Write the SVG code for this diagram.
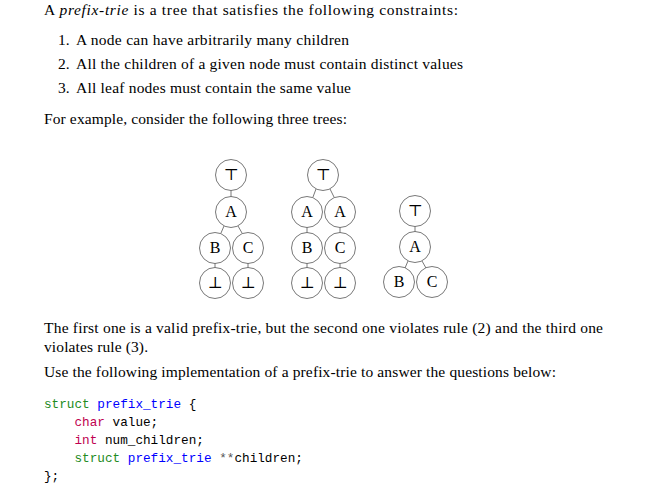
<svg xmlns="http://www.w3.org/2000/svg" width="653" height="492" viewBox="0 0 653 492">
<style>
.t{font-family:"Liberation Serif","DejaVu Serif",serif;font-size:15.5px;fill:#000}
.c{font-family:"Liberation Mono","DejaVu Sans Mono",monospace;font-size:12.7px;fill:#000}
.n circle{fill:#fff;stroke:#555;stroke-width:0.8}
.n text{font-family:"Liberation Serif","DejaVu Serif",serif;font-size:16px;text-anchor:middle}
#edges line{stroke:#555;stroke-width:0.8}
.g{fill:#228b22}.b{fill:#0000ff}.r{fill:#c00050}
</style>
<rect width="653" height="492" fill="#fff"/>
<text class="t" x="44" y="15" textLength="414" lengthAdjust="spacing">A <tspan font-style="italic">prefix-trie</tspan> is a tree that satisfies the following constraints:</text>
<text class="t" x="58" y="45">1.</text><text class="t" x="76" y="45" textLength="273" lengthAdjust="spacing">A node can have arbitrarily many children</text>
<text class="t" x="58" y="69">2.</text><text class="t" x="76" y="69" textLength="387" lengthAdjust="spacing">All the children of a given node must contain distinct values</text>
<text class="t" x="58" y="93">3.</text><text class="t" x="76" y="93" textLength="275" lengthAdjust="spacing">All leaf nodes must contain the same value</text>
<text class="t" x="44" y="124" textLength="303" lengthAdjust="spacing">For example, consider the following three trees:</text>
<g id="edges">
<line x1="231" y1="190" x2="231" y2="197"/>
<line x1="224" y1="226" x2="221" y2="233"/><line x1="238" y1="226" x2="242" y2="233"/>
<line x1="215" y1="263" x2="215" y2="268"/><line x1="248" y1="263" x2="248" y2="268"/>
<line x1="316" y1="189" x2="313" y2="197"/><line x1="330" y1="189" x2="334" y2="197"/>
<line x1="307" y1="227" x2="307" y2="233"/><line x1="340" y1="227" x2="340" y2="233"/>
<line x1="307" y1="263" x2="307" y2="268"/><line x1="340" y1="263" x2="340" y2="268"/>
<line x1="415" y1="226" x2="415" y2="232"/>
<line x1="408" y1="261" x2="405" y2="268"/><line x1="422" y1="261" x2="426" y2="268"/>
</g>
<g id="t1_top" class="n"><circle cx="231" cy="175" r="15.5"/><text x="231" y="180">⊤</text></g>
<g id="t1_A" class="n"><circle cx="231" cy="212" r="15.5"/><text x="231" y="217">A</text></g>
<g id="t1_B" class="n"><circle cx="215" cy="248" r="15.5"/><text x="215" y="253">B</text></g>
<g id="t1_C" class="n"><circle cx="248" cy="248" r="15.5"/><text x="248" y="253">C</text></g>
<g id="t1_b1" class="n"><circle cx="215" cy="283" r="15.5"/><text x="215" y="288">⊥</text></g>
<g id="t1_b2" class="n"><circle cx="248" cy="283" r="15.5"/><text x="248" y="288">⊥</text></g>
<g id="t2_top" class="n"><circle cx="323" cy="175" r="15.5"/><text x="323" y="180">⊤</text></g>
<g id="t2_A1" class="n"><circle cx="307" cy="212" r="15.5"/><text x="307" y="217">A</text></g>
<g id="t2_A2" class="n"><circle cx="340" cy="212" r="15.5"/><text x="340" y="217">A</text></g>
<g id="t2_B" class="n"><circle cx="307" cy="248" r="15.5"/><text x="307" y="253">B</text></g>
<g id="t2_C" class="n"><circle cx="340" cy="248" r="15.5"/><text x="340" y="253">C</text></g>
<g id="t2_b1" class="n"><circle cx="307" cy="283" r="15.5"/><text x="307" y="288">⊥</text></g>
<g id="t2_b2" class="n"><circle cx="340" cy="283" r="15.5"/><text x="340" y="288">⊥</text></g>
<g id="t3_top" class="n"><circle cx="415" cy="211" r="15.5"/><text x="415" y="216">⊤</text></g>
<g id="t3_A" class="n"><circle cx="415" cy="247" r="15.5"/><text x="415" y="252">A</text></g>
<g id="t3_B" class="n"><circle cx="399" cy="282" r="15.5"/><text x="399" y="287">B</text></g>
<g id="t3_C" class="n"><circle cx="432" cy="282" r="15.5"/><text x="432" y="287">C</text></g>
<text class="t" x="44" y="333" textLength="559" lengthAdjust="spacing">The first one is a valid prefix-trie, but the second one violates rule (2) and the third one</text>
<text class="t" x="44" y="352" textLength="104" lengthAdjust="spacing">violates rule (3).</text>
<text class="t" x="44" y="377" textLength="512" lengthAdjust="spacing">Use the following implementation of a prefix-trie to answer the questions below:</text>
<text class="c" x="44" y="408" xml:space="preserve"><tspan class="g">struct</tspan> <tspan class="b">prefix_trie</tspan> {</text>
<text class="c" x="44" y="426" xml:space="preserve">    <tspan class="r">char</tspan> value;</text>
<text class="c" x="44" y="444" xml:space="preserve">    <tspan class="r">int</tspan> num_children;</text>
<text class="c" x="44" y="462" xml:space="preserve">    <tspan class="g">struct</tspan> <tspan class="b">prefix_trie</tspan> <tspan fill="#555">**</tspan>children;</text>
<text class="c" x="44" y="480">};</text>
</svg>
